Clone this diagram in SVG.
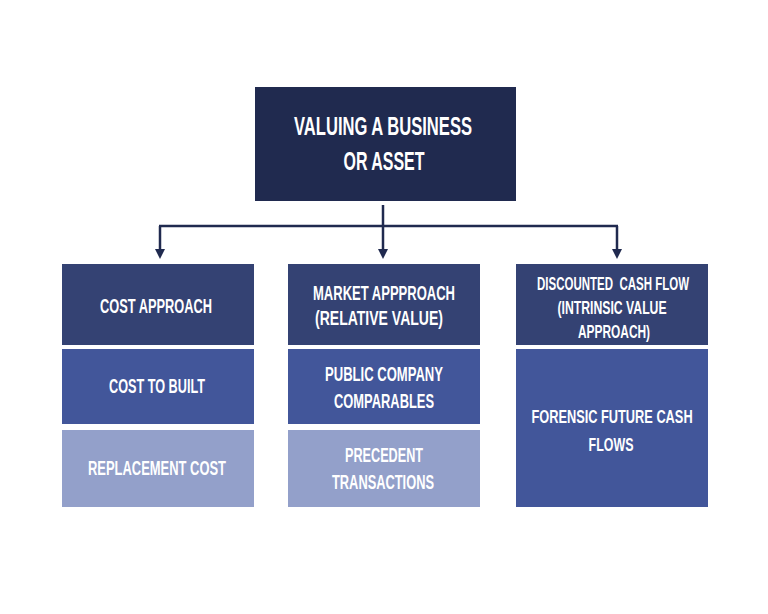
<svg xmlns="http://www.w3.org/2000/svg" width="768" height="614" viewBox="0 0 768 614">
<defs>
<style>
.t{font-family:"Liberation Sans",Arial,sans-serif;font-weight:bold;fill:#ffffff;text-anchor:middle}
.s{font-size:21px}
.m{font-size:19px}
.h{font-size:26px}
.c{stroke:#202a4f;stroke-width:2.5;fill:none}
.d{fill:#344273}
.n{fill:#42569a}
.l{fill:#93a0ca}
.a{fill:#202a4f}
</style>
</defs>
<rect width="768" height="614" fill="#ffffff"/>
<g id="connectors">
<line class="c" x1="383" y1="205" x2="383" y2="226"/>
<line class="c" x1="159" y1="226" x2="618" y2="226"/>
<path class="c" d="M160,226 V250"/>
<path class="c" d="M383,226 V250"/>
<path class="c" d="M617,226 V250"/>
<path class="a" d="M155,249 L165,249 L160,259 Z"/>
<path class="a" d="M378,249 L388,249 L383,259 Z"/>
<path class="a" d="M612,249 L622,249 L617,259 Z"/>
</g>
<g id="root">
<rect x="255" y="87" width="261" height="114" fill="#202a4f"/>
<text class="t h" x="383" y="135" textLength="178" lengthAdjust="spacingAndGlyphs">VALUING A BUSINESS</text>
<text class="t h" x="384" y="170" textLength="81" lengthAdjust="spacingAndGlyphs">OR ASSET</text>
</g>
<g id="cost-approach">
<rect class="d" x="62" y="264" width="192" height="81"/>
<text class="t s" x="156" y="313" textLength="112" lengthAdjust="spacingAndGlyphs">COST APPROACH</text>
</g>
<g id="cost-to-built">
<rect class="n" x="62" y="349" width="192" height="75"/>
<text class="t s" x="157" y="393" textLength="96" lengthAdjust="spacingAndGlyphs">COST TO BUILT</text>
</g>
<g id="replacement-cost">
<rect class="l" x="62" y="430" width="192" height="77"/>
<text class="t s" x="157" y="475" textLength="138" lengthAdjust="spacingAndGlyphs">REPLACEMENT COST</text>
</g>
<g id="market-approach">
<rect class="d" x="288" y="264" width="192" height="81"/>
<text class="t s" x="384" y="300" textLength="142" lengthAdjust="spacingAndGlyphs">MARKET APPPROACH</text>
<text class="t s" x="379" y="325" textLength="128" lengthAdjust="spacingAndGlyphs">(RELATIVE VALUE)</text>
</g>
<g id="public-company">
<rect class="n" x="288" y="349" width="192" height="75"/>
<text class="t s" x="384" y="381" textLength="118" lengthAdjust="spacingAndGlyphs">PUBLIC COMPANY</text>
<text class="t s" x="384" y="408" textLength="100" lengthAdjust="spacingAndGlyphs">COMPARABLES</text>
</g>
<g id="precedent">
<rect class="l" x="288" y="430" width="192" height="77"/>
<text class="t s" x="384" y="462" textLength="78" lengthAdjust="spacingAndGlyphs">PRECEDENT</text>
<text class="t s" x="383" y="489" textLength="102" lengthAdjust="spacingAndGlyphs">TRANSACTIONS</text>
</g>
<g id="dcf">
<rect class="d" x="516" y="264" width="192" height="81"/>
<text class="t m" transform="translate(613,290) scale(0.65,1)" x="0" y="0" textLength="234" lengthAdjust="spacingAndGlyphs" xml:space="preserve">DISCOUNTED  CASH FLOW</text>
<text class="t m" transform="translate(612,314) scale(0.65,1)" x="0" y="0" textLength="168" lengthAdjust="spacingAndGlyphs">(INTRINSIC VALUE</text>
<text class="t m" transform="translate(614,338) scale(0.65,1)" x="0" y="0" textLength="111" lengthAdjust="spacingAndGlyphs">APPROACH)</text>
</g>
<g id="forensic">
<rect class="n" x="516" y="349" width="192" height="158"/>
<text class="t m" transform="translate(612,423) scale(0.65,1)" x="0" y="0" textLength="248" lengthAdjust="spacingAndGlyphs">FORENSIC FUTURE CASH</text>
<text class="t m" transform="translate(611,451) scale(0.65,1)" x="0" y="0" textLength="69" lengthAdjust="spacingAndGlyphs">FLOWS</text>
</g>
</svg>
